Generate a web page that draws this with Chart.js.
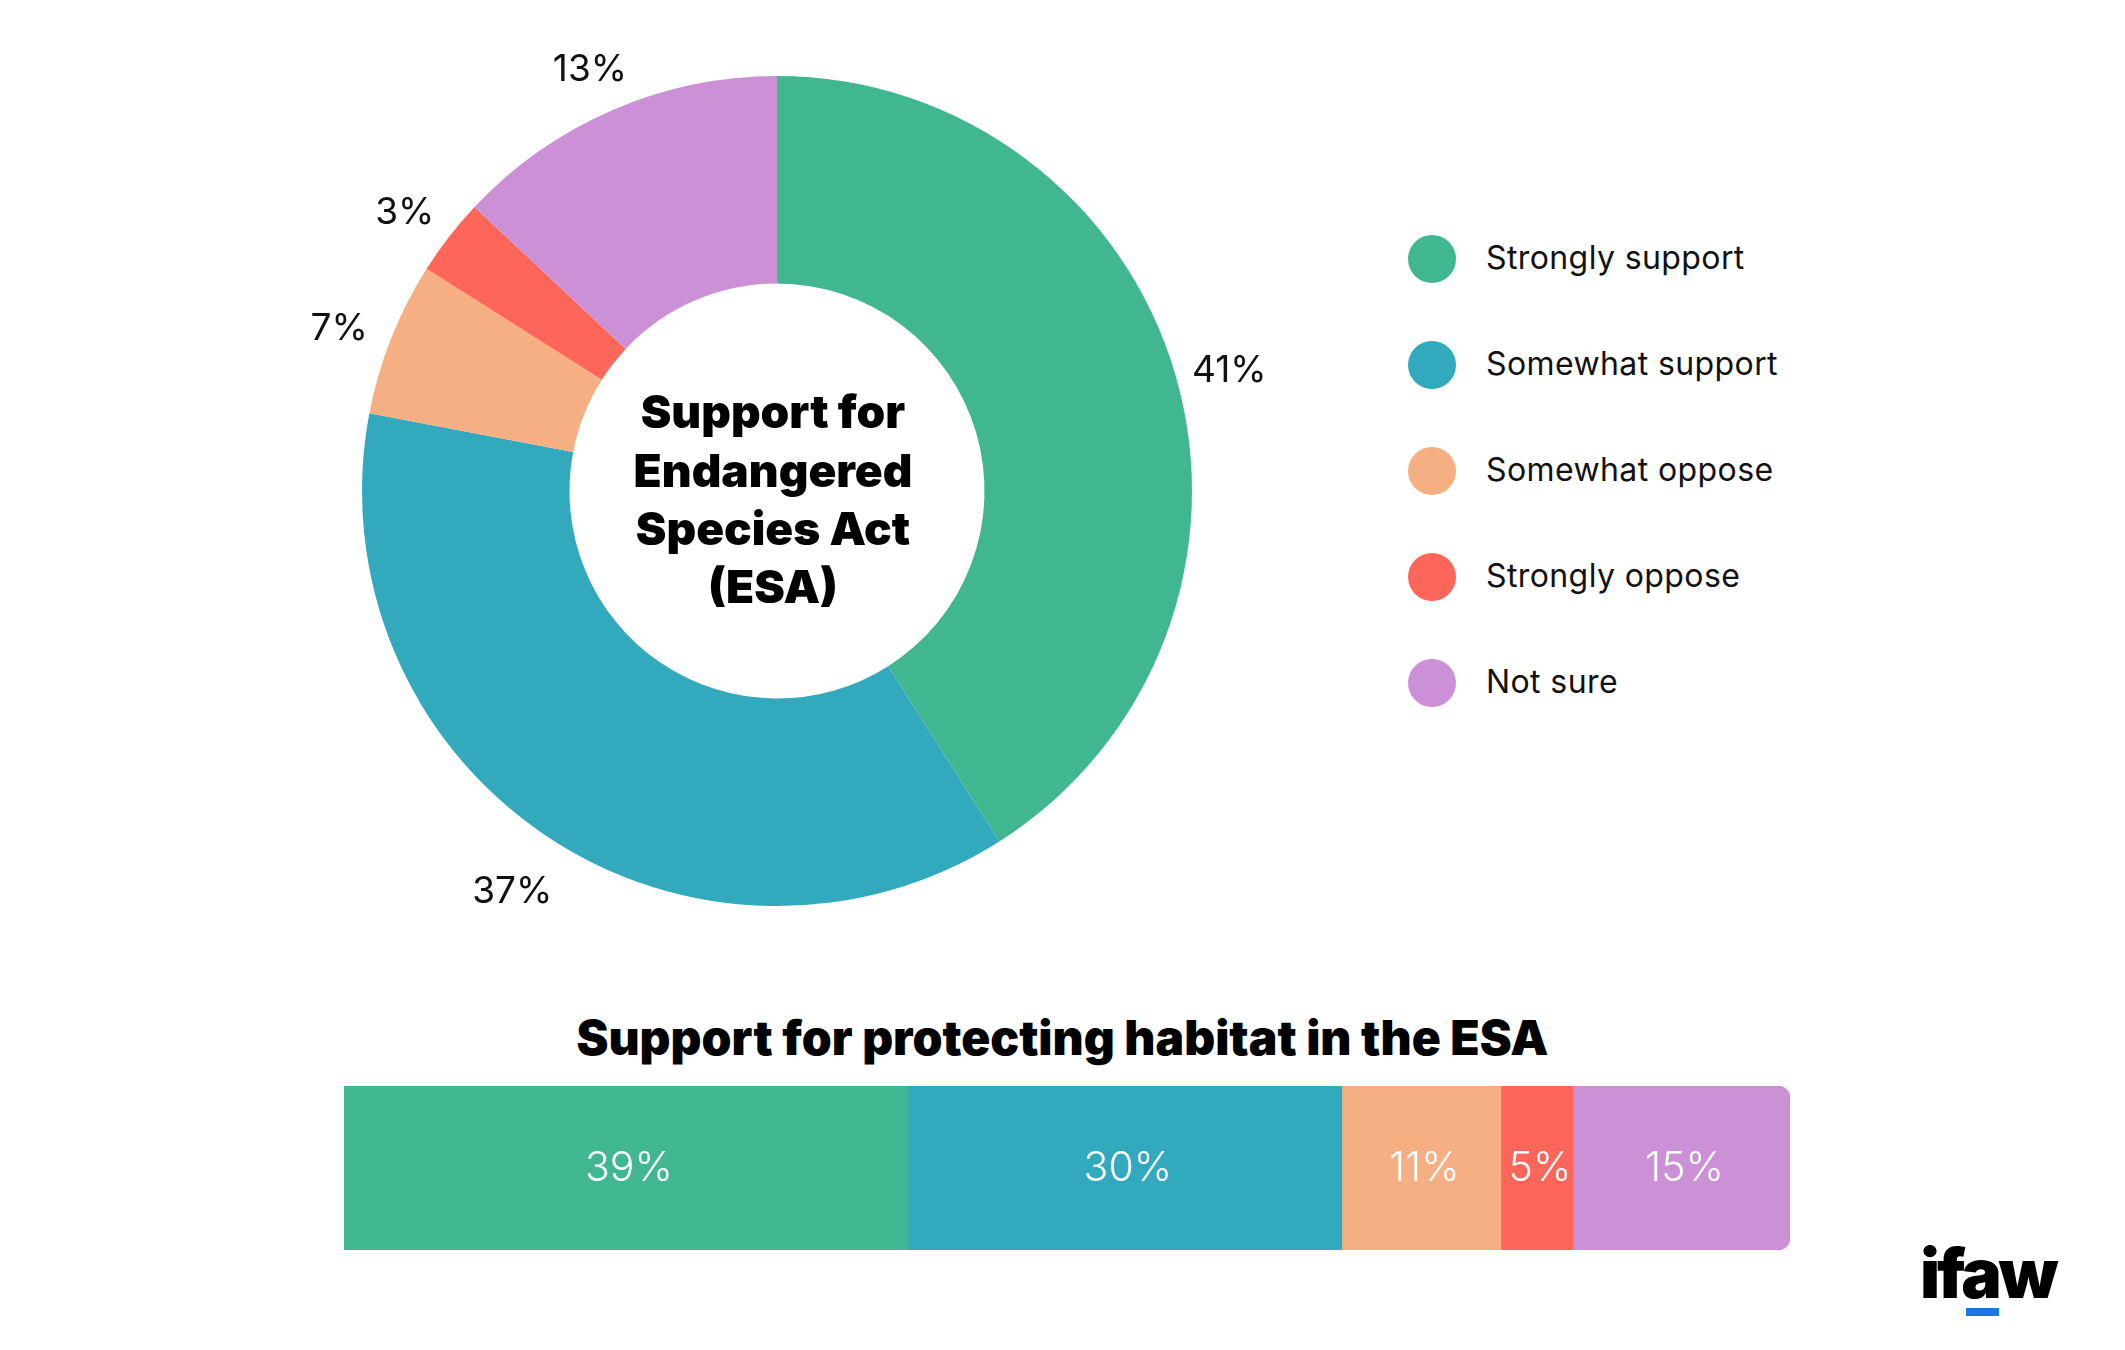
<!DOCTYPE html>
<html><head><meta charset="utf-8">
<script src="https://cdn.jsdelivr.net/npm/chart.js@4.4.0/dist/chart.umd.min.js"></script>
<style>
html,body{margin:0;padding:0;background:#fff;width:2125px;height:1350px;overflow:hidden;font-family:Inter,"Noto Sans",sans-serif;}
#donut{position:absolute;left:286px;top:0;}
#bar{position:absolute;left:344px;top:1086px;}
.leg{position:absolute;left:1408px;height:48px;display:flex;align-items:center;white-space:nowrap;}
.leg .dot{width:48px;height:48px;border-radius:50%;flex:none;}
.leg .txt{margin-left:30px;font-size:32px;letter-spacing:0.4px;color:#111;font-weight:400;margin-top:-4px;}
#barTitle{position:absolute;left:0;width:2125px;text-align:center;top:1008px;font-size:48px;font-weight:900;color:#000;letter-spacing:0px;}
#logo{position:absolute;left:1920px;top:1239px;font-size:68px;font-weight:900;color:#000;letter-spacing:-3px;line-height:1;}
#logoBar{position:absolute;left:1966px;top:1308px;width:33px;height:8px;background:#1D78E5;}
</style></head>
<body>
<canvas id="donut" width="982" height="982"></canvas>
<div id="legend"></div>
<div id="barTitle">Support for protecting habitat in the ESA</div>
<canvas id="bar" width="1446" height="164"></canvas>
<div id="logo">ifaw</div>
<div id="logoBar"></div>
<script>
const categories = ['Strongly support','Somewhat support','Somewhat oppose','Strongly oppose','Not sure'];
const esaValues = [41, 37, 6, 3, 13];
const esaLabels = ['41%','37%','7%','3%','13%'];
const habitatValues = [39, 30, 11, 5, 15];
const habitatLabels = ['39%','30%','11%','5%','15%'];
const centerTitle = ['Support for','Endangered','Species Act','(ESA)'];
const palette = ['#41B791','#33A9BE','#F6AF82','#FF665A','#CB90D5'];

// legend
const legend = document.getElementById('legend');
categories.forEach((c,i)=>{
  const d=document.createElement('div'); d.className='leg'; d.style.top=(235+106*i)+'px';
  d.innerHTML='<div class="dot" style="background:'+palette[i]+'"></div><div class="txt">'+c+'</div>';
  legend.appendChild(d);
});

const donutLabelPlugin = {
  id:'donutLabels',
  afterDatasetsDraw(chart){
    const ctx=chart.ctx; const meta=chart.getDatasetMeta(0);
    ctx.save();
    ctx.font='400 37px Inter'; ctx.fillStyle='#111'; ctx.textAlign='center'; ctx.textBaseline='middle';
    meta.data.forEach((arc,i)=>{
      const p=arc.getProps(['startAngle','endAngle','outerRadius','x','y'],true);
      const mid=(p.startAngle+p.endAngle)/2; const r=p.outerRadius+56;
      ctx.fillText(esaLabels[i], p.x+Math.cos(mid)*r, p.y+Math.sin(mid)*r+11);
    });
    // centre title
    const a=meta.data[0];
    ctx.font='900 46px Inter'; ctx.fillStyle='#000'; ctx.textBaseline='alphabetic';
    const offs=[-63,-4,54,112];
    centerTitle.forEach((t,i)=>ctx.fillText(t, a.x-4, a.y+offs[i]));
    ctx.restore();
  }
};

new Chart(document.getElementById('donut'),{
  type:'doughnut',
  data:{labels:categories,datasets:[{data:esaValues,backgroundColor:palette,borderWidth:0}]},
  options:{responsive:false,animation:false,cutout:'50%',layout:{padding:76},
    plugins:{legend:{display:false},tooltip:{enabled:false}}},
  plugins:[donutLabelPlugin]
});

const barLabelPlugin = {
  id:'barLabels',
  afterDatasetsDraw(chart){
    const ctx=chart.ctx; ctx.save();
    ctx.font='300 41px Inter'; ctx.fillStyle='#fff'; ctx.textAlign='center'; ctx.textBaseline='middle';
    chart.data.datasets.forEach((ds,i)=>{
      const el=chart.getDatasetMeta(i).data[0];
      ctx.fillText(habitatLabels[i], (el.x+el.base)/2+3, el.y+1);
    });
    ctx.restore();
  }
};
const last=habitatValues.length-1;
new Chart(document.getElementById('bar'),{
  type:'bar',
  data:{labels:['Habitat'],datasets:habitatValues.map((v,i)=>({label:categories[i],data:[v],backgroundColor:palette[i],borderWidth:0,
    borderSkipped:false,
    borderRadius: i===last?{topLeft:0,bottomLeft:0,topRight:12,bottomRight:12}:0,
    barPercentage:1,categoryPercentage:1}))},
  options:{indexAxis:'y',responsive:false,animation:false,layout:{padding:0},
    scales:{x:{stacked:true,min:0,max:100,display:false},y:{stacked:true,display:false}},
    plugins:{legend:{display:false},tooltip:{enabled:false}}},
  plugins:[barLabelPlugin]
});
</script>
</body></html>
